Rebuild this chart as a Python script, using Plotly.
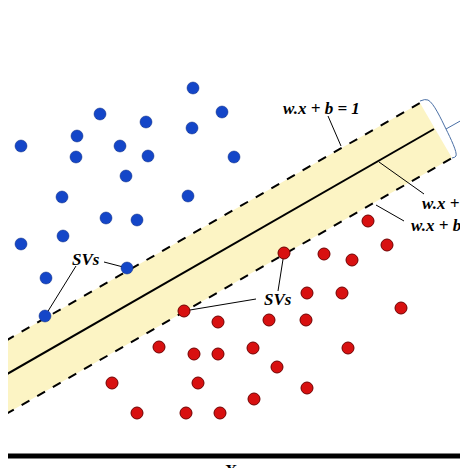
import plotly.graph_objects as go

blue_x = [177,84,130,206,5,61,104,132,176,60,218,110,46,90,172,121,47,5,30,111,29]
blue_y = [72,98,106,96,130,120,130,140,112,141,141,160,181,202,180,204,220,228,262,252,300]
red_x = [352,371,268,308,336,168,202,253,290,385,326,291,143,178,202,237,332,261,96,182,238,291,121,170,204]
red_y = [205,229,237,238,244,295,306,304,304,292,277,277,331,338,338,332,332,351,367,367,383,372,397,397,397]

slope = -0.574
upper_end = (404, 87)
center_end = (418, 113)
lower_end = (436, 142)
X0 = -10

def y_at(pt, x):
    return pt[1] + (x - pt[0]) * slope

fig = go.Figure()
bx = [X0, upper_end[0], lower_end[0], X0, X0]
by = [y_at(upper_end, X0), upper_end[1], lower_end[1], y_at(lower_end, X0), y_at(upper_end, X0)]
fig.add_trace(go.Scatter(x=bx, y=by, fill="toself", fillcolor="#fcf4c4", line=dict(width=0), mode="lines", hoverinfo="skip"))
for end, dash in [(upper_end, "dash"), (lower_end, "dash"), (center_end, "solid")]:
    fig.add_trace(go.Scatter(x=[X0, end[0]], y=[y_at(end, X0), end[1]], mode="lines",
                             line=dict(color="black", width=2, dash=dash)))
leaders = [((312,100),(325,130)), ((363,146),(408,178)), ((360,189),(388,205)),
           ((60,250),(29,300)), ((88,246),(111,252)), ((240,283),(168,295)), ((262,275),(268,237))]
for a, b in leaders:
    fig.add_trace(go.Scatter(x=[a[0], b[0]], y=[a[1], b[1]], mode="lines", line=dict(color="black", width=1)))
fig.add_trace(go.Scatter(x=[404,412,430,440,436], y=[85,84,113,140,142], mode="lines", line=dict(color="#4a6fa5", width=1, shape="spline")))
fig.add_trace(go.Scatter(x=[430,446], y=[113,104], mode="lines", line=dict(color="#4a6fa5", width=1)))
fig.add_trace(go.Scatter(x=blue_x, y=blue_y, mode="markers", marker=dict(color="#1446c8", size=12, line=dict(width=0.5, color="#0a2a80"))))
fig.add_trace(go.Scatter(x=red_x, y=red_y, mode="markers", marker=dict(color="#d81010", size=12, line=dict(width=1, color="#700000"))))
fig.add_trace(go.Scatter(x=[X0, 470], y=[440, 440], mode="lines", line=dict(color="black", width=5)))

f = dict(family="Liberation Serif", size=17, color="black")
texts = [(305, 92, "<b><i>w.x + b = 1</i></b>", "center"),
         (404, 187, "<b><i>w.x + b = 0</i></b>", "left"),
         (393, 209, "<b><i>w.x + b = -1</i></b>", "left"),
         (70, 243, "<b><i>SVs</i></b>", "center"),
         (262, 283, "<b><i>SVs</i></b>", "center"),
         (218, 456, "<b>X</b><sub><b>1</b></sub>", "center"),
         (460, 90, "<b><i>w</i></b>", "left")]
for x, y, t, al in texts:
    fig.add_annotation(x=x, y=y, text=t, showarrow=False, font=f,
                       xanchor=al, yanchor="middle")

fig.update_layout(width=468, height=468, margin=dict(l=0, r=0, t=0, b=0),
                  plot_bgcolor="white", paper_bgcolor="white", showlegend=False,
                  xaxis=dict(range=[-8, 460], visible=False),
                  yaxis=dict(range=[460, -8], visible=False))
fig.write_html("out.html")
